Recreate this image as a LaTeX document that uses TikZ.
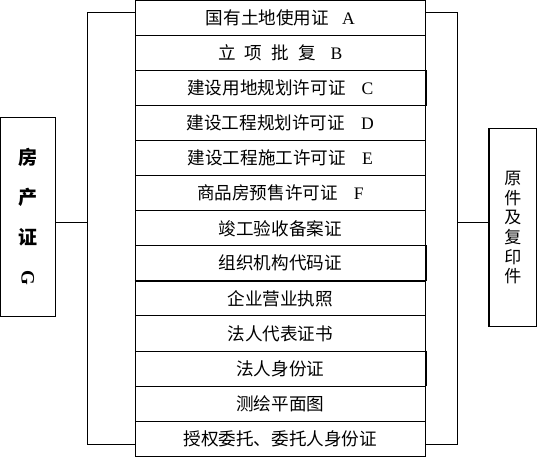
\documentclass[tikz,border=0pt]{standalone}
\usepackage{fontspec}
\setmainfont{Liberation Serif}
\newfontfamily\cjk{Noto Sans CJK SC}
\begin{document}
\begin{tikzpicture}[x=1pt,y=1pt,
  rowbox/.style={draw, line width=0.8pt, minimum width=290.7pt, minimum height=35.04pt, inner sep=0pt,
    font=\fontsize{17.6}{19}\selectfont},
  sidebox/.style={draw, line width=0.9pt, inner sep=0pt, align=center},
  link/.style={line width=0.8pt},
  thick edge/.style={line width=2pt}]
\useasboundingbox (0,0) rectangle (538,-458);
\def\rc{280.35}
\node[rowbox] (r1)  at (\rc,{-(0.5+35.04*0.5)})  {{\cjk 国有土地使用证}\hspace{13pt}A};
\node[rowbox] (r2)  at (\rc,{-(0.5+35.04*1.5)})  {{\cjk 立}\hspace{9pt}{\cjk 项}\hspace{9pt}{\cjk 批}\hspace{9pt}{\cjk 复}\hspace{15pt}B};
\node[rowbox] (r3)  at (\rc,{-(0.5+35.04*2.5)})  {{\cjk 建设用地规划许可证}\hspace{16pt}C};
\node[rowbox] (r4)  at (\rc,{-(0.5+35.04*3.5)})  {{\cjk 建设工程规划许可证}\hspace{16pt}D};
\node[rowbox] (r5)  at (\rc,{-(0.5+35.04*4.5)})  {{\cjk 建设工程施工许可证}\hspace{16pt}E};
\node[rowbox] (r6)  at (\rc,{-(0.5+35.04*5.5)})  {{\cjk 商品房预售许可证}\hspace{16pt}F};
\node[rowbox] (r7)  at (\rc,{-(0.5+35.04*6.5)})  {\cjk 竣工验收备案证};
\node[rowbox] (r8)  at (\rc,{-(0.5+35.04*7.5)})  {\cjk 组织机构代码证};
\node[rowbox] (r9)  at (\rc,{-(0.5+35.04*8.5)})  {\cjk 企业营业执照};
\node[rowbox] (r10) at (\rc,{-(0.5+35.04*9.5)})  {\cjk 法人代表证书};
\node[rowbox] (r11) at (\rc,{-(0.5+35.04*10.5)}) {\cjk 法人身份证};
\node[rowbox] (r12) at (\rc,{-(0.5+35.04*11.5)}) {\cjk 测绘平面图};
\node[rowbox] (r13) at (\rc,{-(0.5+35.04*12.5)}) {\cjk 授权委托、委托人身份证};
% thicker edges
\draw[thick edge] (r3.north east) -- (r3.south east);
\draw[thick edge] (r8.north east) -- (r8.south east);
\draw[thick edge] (r11.north east) -- (r11.south east);
\draw[line width=1.8pt] (r8.south west) -- (r8.south east);
% side boxes
\node[sidebox, minimum width=54.8pt, minimum height=199pt,
  font=\fontsize{19}{40}\selectfont\bfseries] (lbox) at (27.9,-216.5)
  {{\cjk 房}\\{\cjk 产}\\{\cjk 证}\\\rotatebox[origin=c]{-90}{G}};
\node[sidebox, line width=1.4pt, minimum width=47.5pt, minimum height=198pt,
  font=\fontsize{17}{19.6}\selectfont\cjk] (rbox) at (512.75,-227.7)
  {原\\件\\及\\复\\印\\件};
% brackets
\coordinate (jl) at (87.5,-222.3);
\coordinate (jr) at (457.3,-222.3);
\draw[link] ([yshift=6pt]r1.west) -| (jl) |- ([yshift=-5.8pt]r13.west);
\draw[link] (lbox.east |- jl) -- (jl);
\draw[link] ([yshift=6pt]r1.east) -| (jr) |- ([yshift=-5.8pt]r13.east);
\draw[link] (jr) -- (rbox.west |- jr);
\end{tikzpicture}
\end{document}
